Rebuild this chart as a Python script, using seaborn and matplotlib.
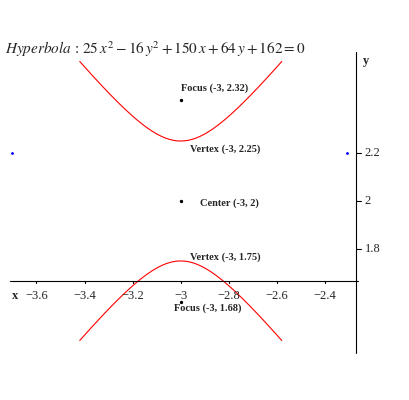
import numpy as np
import matplotlib
matplotlib.use("Agg")
import matplotlib.pyplot as plt
import seaborn as sns

sns.set_style("white")
plt.rcParams['font.family'] = ['Liberation Serif', 'DejaVu Serif']

xticks = [-3.6, -3.4, -3.2, -3.0, -2.8, -2.6, -2.4]
xtick_labels = ["\u22123.6", "\u22123.4", "\u22123.2", "\u22123", "\u22122.8", "\u22122.6", "\u22122.4"]
yticks = [1.8, 2.0, 2.2]
ytick_labels = ["1.8", "2", "2.2"]
pt_x = [-3.0, -3.0, -3.0]
pt_y = [2.42, 2.0, 1.58]
labels = ["Focus (-3, 2.32)", "Vertex (-3, 2.25)", "Center (-3, 2)", "Vertex (-3, 1.75)", "Focus (-3, 1.68)"]
label_x = [-3.0, -2.96, -2.92, -2.96, -3.03]
label_y = [2.47, 2.215, 1.99, 1.765, 1.555]
blue_x = [-3.70, -2.31]
blue_y = [2.2, 2.2]
x_range = [-3.42, -2.58]

x0, x1, y0, y1 = -3.71, -2.13, 1.358, 2.671
ax_x, ax_y = -2.271, 1.667

fig = plt.figure(figsize=(4.1, 4.0), dpi=100)
ax = fig.add_axes([10/410, 1-355/400, 380/410, 315/400])
ax.set_xlim(x0, x1); ax.set_ylim(y0, y1)
ax.axis('off')

xs = np.linspace(x_range[0], x_range[1], 600)
dy = np.sqrt(1/16 + (xs + 3)**2 * 25/16)
for sgn in (1, -1):
    ys = 2 + sgn*dy
    sns.lineplot(x=xs, y=ys, ax=ax, color='red', lw=0.8, sort=False)

ax.plot([x0, ax_x+0.01], [ax_y, ax_y], color='black', lw=0.8)
ax.plot([ax_x, ax_x], [y0+0.01, 2.62], color='black', lw=0.8)
for t, l in zip(xticks, xtick_labels):
    ax.plot([t, t], [ax_y, ax_y-0.008], color='black', lw=0.8)
    ax.text(t, ax_y-0.062, l, ha='center', va='center', fontsize=9)
for t, l in zip(yticks, ytick_labels):
    ax.plot([ax_x, ax_x+0.02], [t, t], color='black', lw=0.8)
    ax.text(ax_x+0.035, t, l, ha='left', va='center', fontsize=9)
ax.text(x0+0.01, ax_y-0.062, "x", ha='left', va='center', fontsize=9, fontweight='bold')
ax.text(ax_x+0.03, 2.585, "y", ha='left', va='center', fontsize=9, fontweight='bold')

ax.scatter(pt_x, pt_y, s=2, color='black')
ax.scatter(blue_x, blue_y, s=1, color='blue')
for tx, ty, l in zip(label_x, label_y, labels):
    ax.text(tx, ty, l, ha='left', va='center', fontsize=7.5, fontweight='bold')

fig.text(5/410, 1-49/400, r"$\it{Hyperbola}$ : $25\,x^2 - 16\,y^2 + 150\,x + 64\,y + 162 = 0$",
         fontsize=11, ha='left', va='center', math_fontfamily='stix')
fig.savefig("out.png", dpi=100)
